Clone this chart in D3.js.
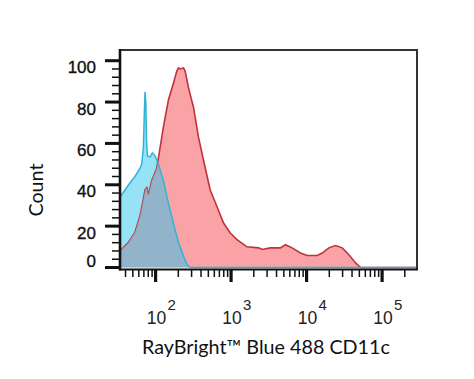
<!DOCTYPE html>
<html><head><meta charset="utf-8">
<script src="https://cdn.jsdelivr.net/npm/d3@7"></script>
<style>html,body{margin:0;padding:0;background:#fff;}svg{display:block;}</style>
</head><body>
<svg id="c" width="474" height="379"></svg>
<script>
// Data: [fluorescence intensity, count]
const cyanX = [33.8, 39.4, 45.9, 53.4, 62.3, 65.6, 68.9, 71.0, 72.5, 74.3, 75.9, 77.8, 84.5, 90.7, 98.5, 109, 127, 148, 172, 201, 234, 260, 287, 290000];
const cyanY = [34, 37.5, 41, 44, 48, 50, 58, 75, 85, 80, 62, 54, 53.5, 55.5, 54, 50, 42, 31, 21.5, 12, 5.5, 1.5, 0, 0];
const redX = [33.8, 43.5, 53.4, 62.3, 68.9, 72.5, 76.4, 80.2, 89.0, 103.7, 114.8, 127, 148, 172, 191, 201, 211.5, 234, 246.5, 272.6, 317.7, 370, 431, 529, 649.6, 795, 976, 1198, 1627, 2318, 2573, 3316, 4502, 5246, 6438, 8299, 10186, 13830, 16120, 19710, 24190, 29700, 36340, 44610, 51970, 290000];
const redY = [8, 12, 17, 25, 33, 37.5, 38.5, 35, 42, 48, 58, 68, 81, 89, 95, 96.5, 96, 96.5, 95, 87, 77.5, 63, 52, 37.5, 29.5, 21.5, 16.7, 13.5, 10, 9.5, 8.7, 9.5, 9.5, 11, 9.5, 7, 5.8, 5.8, 7, 9.5, 10.6, 9.5, 6.2, 2.2, 0, 0];
const yTicks = [0, 20, 40, 60, 80, 100];
const xDecades = [2, 3, 4, 5];
const xLabel = "RayBright™ Blue 488 CD11c";
const yLabel = "Count";

const svg = d3.select("#c");
const L = 120, R = 417, T = 50;
const x = d3.scaleLog().domain([33.8, 290000]).range([L, R]);
const y = d3.scaleLinear().domain([0, 100]).range([267.5, 60.7]);

const cyan = cyanX.map((v, i) => [v, cyanY[i]]);
const red = redX.map((v, i) => [v, redY[i]]);

const area = d3.area().x(d => x(d[0])).y0(y(0)).y1(d => y(d[1]));
const line = d3.line().x(d => x(d[0])).y(d => y(d[1]));

const defs = svg.append("defs");
defs.append("clipPath").attr("id", "redClip").append("path").attr("d", area(red));
defs.append("clipPath").attr("id", "plotClip").append("rect").attr("x", L).attr("y", T).attr("width", R - L).attr("height", 270 - T);

const g = svg.append("g").attr("clip-path", "url(#plotClip)");
g.append("path").attr("d", area(red)).attr("fill", "#f9a3a6");
g.append("path").attr("d", area(cyan)).attr("fill", "#95e3f5");
g.append("path").attr("d", line(red)).attr("fill", "none").attr("stroke", "#c0323c").attr("stroke-width", 1.6);
// overlap region
g.append("path").attr("d", area(cyan)).attr("clip-path", "url(#redClip)").attr("fill", "#92abc3").attr("fill-opacity", 0.85);
g.append("path").attr("d", line(cyan)).attr("fill", "none").attr("stroke", "#2fb4d8").attr("stroke-width", 1.5);

// frame
svg.append("line").attr("x1", L).attr("x2", R).attr("y1", T).attr("y2", T).attr("stroke", "#333").attr("stroke-width", 2);
svg.append("line").attr("x1", R).attr("x2", R).attr("y1", T - 1).attr("y2", 270).attr("stroke", "#333").attr("stroke-width", 2);
svg.append("line").attr("x1", L).attr("x2", L).attr("y1", T - 1).attr("y2", 270.5).attr("stroke", "#111").attr("stroke-width", 2.6);
svg.append("line").attr("x1", L - 1).attr("x2", R + 1).attr("y1", 269.5).attr("y2", 269.5).attr("stroke", "#111").attr("stroke-width", 2);

// y axis ticks
const yMinor = d3.range(0, 101, 4).filter(v => v % 20 !== 0);
svg.selectAll(".ymin").data(yMinor).enter().append("line")
  .attr("x1", 112).attr("x2", L).attr("y1", d => y(d)).attr("y2", d => y(d))
  .attr("stroke", "#111").attr("stroke-width", 1.5);
svg.selectAll(".ymaj").data(yTicks).enter().append("line")
  .attr("x1", 105).attr("x2", L).attr("y1", d => y(d)).attr("y2", d => y(d))
  .attr("stroke", "#111").attr("stroke-width", 3);
svg.selectAll(".ylab").data(yTicks).enter().append("text")
  .attr("x", 96).attr("y", d => d === 0 ? y(d) - 1 : y(d) + 12.5)
  .attr("text-anchor", "end").attr("font-family", "Liberation Sans, Arial, sans-serif")
  .attr("font-size", 17).attr("fill", "#111").attr("stroke", "#111").attr("stroke-width", 0.35).text(d => d);

// x axis ticks
const [d0, d1] = x.domain();
const minor = [];
for (let e = 1; e <= 5; e++) for (let m = 2; m <= 9; m++) { const v = m * Math.pow(10, e); if (v >= d0 && v <= d1) minor.push(v); }
svg.selectAll(".xmin").data(minor).enter().append("line")
  .attr("x1", d => x(d)).attr("x2", d => x(d)).attr("y1", 270).attr("y2", 277)
  .attr("stroke", "#111").attr("stroke-width", 1.5);
svg.selectAll(".xmaj").data(xDecades).enter().append("line")
  .attr("x1", d => x(Math.pow(10, d))).attr("x2", d => x(Math.pow(10, d))).attr("y1", 270).attr("y2", 282)
  .attr("stroke", "#111").attr("stroke-width", 3.2);
svg.selectAll(".xlab").data(xDecades).enter().append("text")
  .attr("x", d => x(Math.pow(10, d)) + 1).attr("y", 324).attr("text-anchor", "middle")
  .attr("font-family", "Liberation Sans, Arial, sans-serif").attr("font-size", 17.5).attr("fill", "#222").text("10");
svg.selectAll(".xexp").data(xDecades).enter().append("text")
  .attr("x", d => x(Math.pow(10, d)) + 12).attr("y", 310).attr("text-anchor", "start")
  .attr("font-family", "Liberation Sans, Arial, sans-serif").attr("font-size", 15).attr("fill", "#222").text(d => d);

// axis titles
const t = svg.append("text").attr("x", 266).attr("y", 354).attr("text-anchor", "middle")
  .attr("font-family", "Lato, 'Open Sans', sans-serif").attr("font-size", 17).attr("fill", "#111").text(xLabel);
const w = t.node().getComputedTextLength();
t.attr("font-size", 17 * 248 / w);
const fs = 17 * 248 / w;
svg.append("text").attr("transform", "translate(43,190) rotate(-90)").attr("text-anchor", "middle")
  .attr("font-family", "Lato, 'Open Sans', sans-serif").attr("font-size", fs).attr("fill", "#111").text(yLabel);
</script>
</body></html>
